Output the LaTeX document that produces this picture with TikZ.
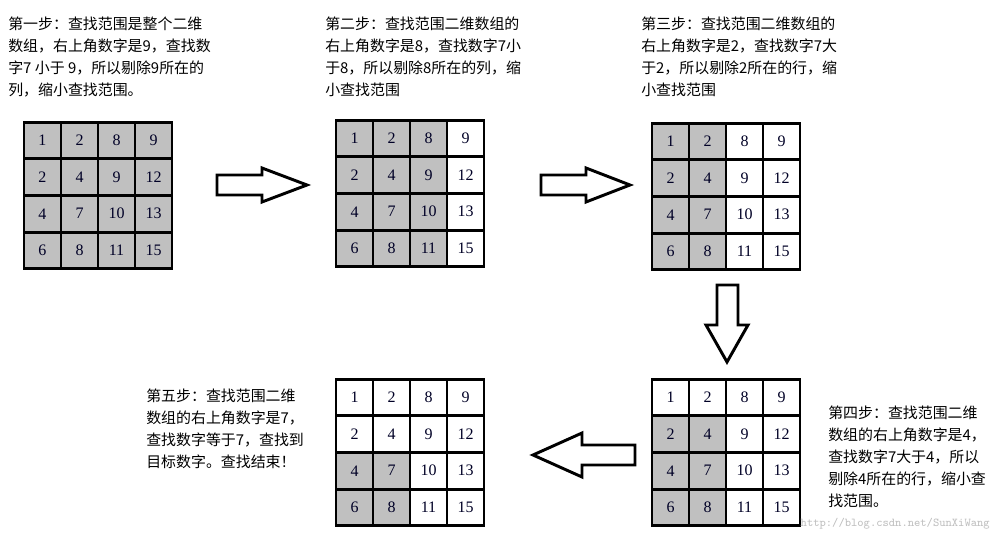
\documentclass[tikz,border=0pt]{standalone}
\usepackage{fontspec}
\setmainfont{Liberation Serif}
\newfontfamily\cjk{Noto Sans CJK SC}
\definecolor{cellgray}{RGB}{192,192,192}
\begin{document}
\begin{tikzpicture}[x=0.75pt,y=-0.75pt,
  cell/.style={draw=black,line width=2.2pt,minimum width=27.75pt,minimum height=27.4pt,inner sep=0pt,font=\fontsize{12}{12}\selectfont,text=black!85!blue},
  sh/.style={cell,fill=cellgray},
  wh/.style={cell,fill=white},
  desc/.style={anchor=north west,align=left,inner sep=0pt,font=\cjk\fontsize{11.2}{16.5}\selectfont},
  barrow/.style={draw=black,line width=2.2pt,fill=white,line join=miter}]
\useasboundingbox (0,0) rectangle (1001,538);
% grid macro: #1 name prefix, #2 x0, #3 y0, #4 shade test
\newcommand{\mygrid}[4]{%
  \foreach \r/\vals in {1/{1,2,8,9},2/{2,4,9,12},3/{4,7,10,13},4/{6,8,11,15}}{%
    \foreach \v [count=\c] in \vals {%
      \pgfmathtruncatemacro{\isg}{#4}%
      \ifnum\isg=1 \def\st{sh}\else\def\st{wh}\fi
      \node[\st] (#1-\r-\c) at ({#2+(\c-0.5)*37},{#3+(\r-0.5)*36.7}) {\v};
    }}}
\mygrid{ga}{24}{122}{1}
\mygrid{gb}{336}{120}{\c<4}
\mygrid{gc}{652}{123}{\c<3}
\mygrid{gd}{652}{379}{and(\r>1,\c<3)}
\mygrid{ge}{336}{379}{and(\r>2,\c<3)}
% arrows
\draw[barrow] (217,175) -- (262,175) -- (262,168) -- (307,185) -- (262,202) -- (262,195) -- (217,195) -- cycle;
\draw[barrow] (541,175) -- (586,175) -- (586,168) -- (630,185) -- (586,202) -- (586,195) -- (541,195) -- cycle;
\draw[barrow] (717,285) -- (738,285) -- (738,325) -- (748,325) -- (727,362) -- (706,325) -- (717,325) -- cycle;
\draw[barrow] (635,445) -- (582,445) -- (582,433) -- (533,455) -- (582,477) -- (582,465) -- (635,465) -- cycle;
% texts
\node[desc] (t1) at (8,17) {第一步：查找范围是整个二维\\数组，右上角数字是9，查找数\\字7 小于 9，所以剔除9所在的\\列，缩小查找范围。};
\node[desc] (t2) at (325,17) {第二步：查找范围二维数组的\\右上角数字是8，查找数字7小\\于8，所以剔除8所在的列，缩\\小查找范围};
\node[desc] (t3) at (641,17) {第三步：查找范围二维数组的\\右上角数字是2，查找数字7大\\于2，所以剔除2所在的行，缩\\小查找范围};
\node[desc] (t4) at (828,406) {第四步：查找范围二维\\数组的右上角数字是4，\\查找数字7大于4，所以\\剔除4所在的行，缩小查\\找范围。};
\node[desc] (t5) at (146,389) {第五步：查找范围二维\\数组的右上角数字是7，\\查找数字等于7，查找到\\目标数字。查找结束！};
\node[anchor=south east,inner sep=0pt,text=black!25,font=\ttfamily\fontsize{9}{9}\selectfont] (wm) at (990,530) {http://blog.csdn.net/SunXiWang};
\end{tikzpicture}
\end{document}
